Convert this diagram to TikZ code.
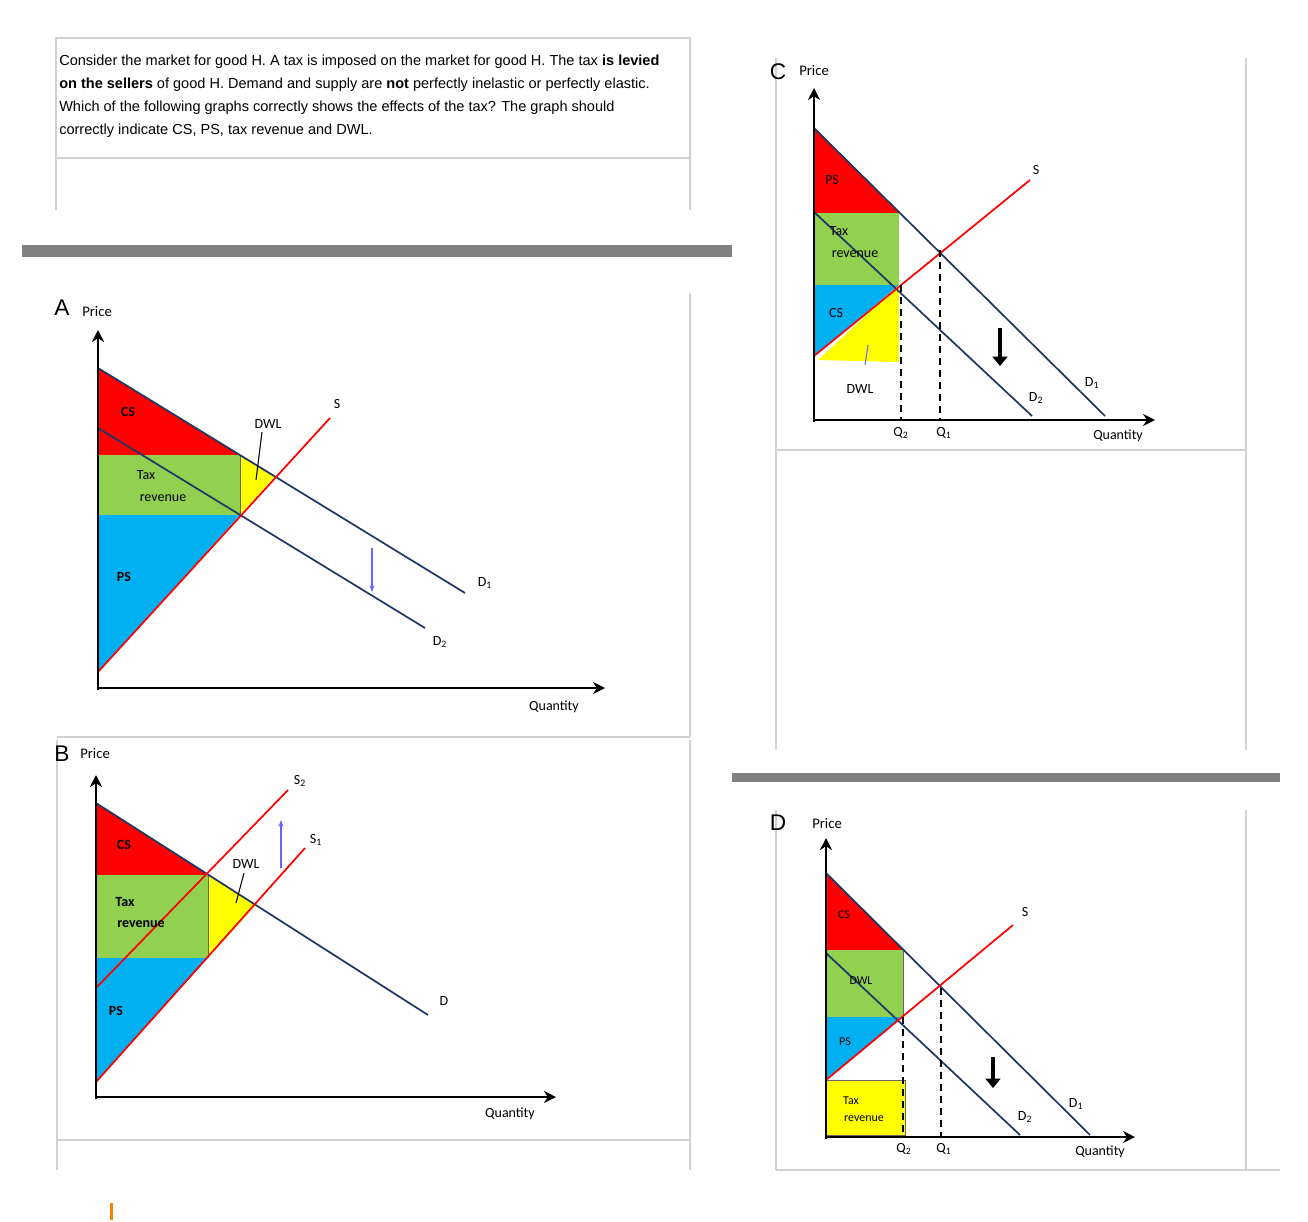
\documentclass[tikz,border=0pt]{standalone}
\usepackage{fontspec}
\usetikzlibrary{arrows.meta}
\setmainfont{Liberation Sans}
\newfontfamily\calfnt{Carlito}
\definecolor{dblue}{RGB}{31,56,100}
\definecolor{gfill}{RGB}{146,208,80}
\definecolor{bfill}{RGB}{0,176,240}
\definecolor{yfill}{RGB}{255,255,0}
\definecolor{frame}{RGB}{210,210,210}
\definecolor{bar}{RGB}{128,128,128}
\begin{document}
\begin{tikzpicture}[x=0.75pt,y=-0.75pt,
 dem/.style={dblue,line width=1.3pt},
 sup/.style={red,line width=1.3pt},
 ax/.style={line width=2.2pt,-{Stealth[length=9pt,width=9pt]}},
 lab/.style={font=\calfnt\fontsize{10.5}{12}\selectfont,inner sep=0pt},
 blab/.style={font=\calfnt\bfseries\fontsize{10.5}{12}\selectfont,inner sep=0pt},
 slab/.style={font=\calfnt\fontsize{9}{10}\selectfont,inner sep=0pt},
 big/.style={font=\fontsize{17}{17}\selectfont,inner sep=0pt},
 plab/.style={font=\calfnt\fontsize{11}{12}\selectfont,inner sep=0pt,anchor=west},
 fr/.style={frame,line width=0.8pt},
 dsh/.style={black,line width=1.3pt,dash pattern=on 5pt off 4pt},
 barr/.style={line width=3pt,-{Triangle[length=7pt,width=11pt]}}]
\useasboundingbox (0,0) rectangle (1308,1221);
% frames
\draw[fr] (56,38) rectangle (690,158);
\draw[fr] (56,158) -- (56,210) (690,158) -- (690,210);
\fill[bar] (22,245) rectangle (732,257);
\fill[bar] (732,773) rectangle (1280,782);
\draw[fr] (690,293) -- (690,737) (57,737) -- (690,737);
\draw[fr] (57,740) -- (57,1170) (690,740) -- (690,1170) (57,1140) -- (690,1140);
\draw[fr] (776,58) -- (776,750) (1246,58) -- (1246,750) (776,450) -- (1246,450);
\draw[fr] (776,810) -- (776,1170) (1246,810) -- (1246,1170) (776,1170) -- (1280,1170);
\fill[orange] (110,1203) rectangle (113,1220);
\node[anchor=north west,align=left,inner sep=0pt,font=\fontsize{10.9}{17.2}\selectfont] (q) at (59,55) {Consider the market for good H. A tax is imposed on the market for good H. The tax \textbf{is levied}\\\textbf{on the sellers} of good H. Demand and supply are \textbf{not} perfectly inelastic or perfectly elastic.\\Which of the following graphs correctly shows the effects of the tax? The graph should\\correctly indicate CS, PS, tax revenue and DWL.};
% ===== A =====
\node[big] (A) at (62,308) {A};
\node[plab] (pa) at (82,311) {Price};
\fill[red] (98,368) -- (98,455) -- (240,455) -- cycle;
\fill[gfill] (98,455) rectangle (240,515);
\fill[bfill] (98,515) -- (240,515) -- (98,672) -- cycle;
\fill[yfill] (240,455) -- (240,515) -- (275,476) -- cycle;
\draw[black!60,line width=0.6pt] (240,455) -- (240,515);
\draw[dem] (98,368) -- (465,593);
\draw[dem] (98,428) -- (425,628);
\draw[sup] (98,672) -- (330,418);
\draw[ax] (98,690) -- (98,330);
\draw[ax] (97,688) -- (605,688);
\draw[blue!60,line width=1pt,-{Stealth[length=5pt]}] (372,548) -- (372,592);
\draw[black,line width=0.8pt] (262,432) -- (256,480);
\node[blab] at (128,412) {CS};
\node[lab] at (146,475) {Tax};
\node[lab] at (163,498) {revenue};
\node[blab] at (124,577) {PS};
\node[lab] at (268,424) {DWL};
\node[lab] at (337,404) {S};
\node[lab] at (485,583) {D\textsubscript{1}};
\node[lab] at (440,642) {D\textsubscript{2}};
\node[lab] at (554,707) {Quantity};
% ===== B =====
\node[big] (B) at (62,754) {B};
\node[plab] at (80,753) {Price};
\fill[red] (96,803) -- (96,875) -- (208,875) -- cycle;
\fill[gfill] (96,875) rectangle (208,958);
\fill[bfill] (96,958) -- (208,958) -- (96,1082) -- cycle;
\fill[yfill] (208,875) -- (208,958) -- (256,905) -- cycle;
\draw[black!60,line width=0.6pt] (208,875) -- (208,958);
\draw[dem] (96,803) -- (428,1015);
\draw[sup] (96,988) -- (288,790);
\draw[sup] (96,1082) -- (305,848);
\draw[ax] (96,1099) -- (96,775);
\draw[ax] (95,1097) -- (556,1097);
\draw[blue!60,line width=1pt,-{Stealth[length=5pt]}] (281,868) -- (281,820);
\draw[black,line width=0.8pt] (244,873) -- (236,903);
\node[blab] at (124,845) {CS};
\node[blab] at (125,902) {Tax};
\node[blab] at (141,924) {revenue};
\node[blab] at (116,1011) {PS};
\node[lab] at (246,864) {DWL};
\node[lab] at (300,781) {S\textsubscript{2}};
\node[lab] at (316,840) {S\textsubscript{1}};
\node[lab] at (444,1001) {D};
\node[lab] at (510,1114) {Quantity};
% ===== C =====
\node[big] (C) at (778,72) {C};
\node[plab] at (799,71) {Price};
\fill[red] (814,128) -- (814,213) -- (899,213) -- cycle;
\fill[gfill] (814,213) rectangle (899,285);
\fill[bfill] (814,285) -- (899,285) -- (814,356) -- cycle;
\fill[yfill] (899,285) -- (818,360) -- (899,362) -- cycle;
\draw[dem] (814,128) -- (1105,416);
\draw[dem] (814,212) -- (1032,416);
\draw[sup] (814,356) -- (1030,180);
\draw[dsh] (901,285) -- (901,420);
\draw[dsh] (940,250) -- (940,420);
\draw[ax] (814,422) -- (814,88);
\draw[ax] (813,420) -- (1155,420);
\draw[barr] (1000,328) -- (1000,366);
\draw[blue!60,line width=0.8pt] (868,345) -- (865,365);
\node[lab] at (832,180) {PS};
\node[lab] at (839,231) {Tax};
\node[lab] at (855,254) {revenue};
\node[lab] at (836,313) {CS};
\node[lab] at (860,389) {DWL};
\node[lab] at (1036,170) {S};
\node[lab] at (1092,383) {D\textsubscript{1}};
\node[lab] at (1036,398) {D\textsubscript{2}};
\node[lab] at (901,433) {Q\textsubscript{2}};
\node[lab] at (944,433) {Q\textsubscript{1}};
\node[lab] at (1118,436) {Quantity};
% ===== D =====
\node[big] (D) at (778,823) {D};
\node[plab] at (812,823) {Price};
\fill[red] (826,873) -- (826,950) -- (903,950) -- cycle;
\fill[gfill] (826,950) rectangle (903,1017);
\fill[bfill] (826,1017) -- (903,1017) -- (826,1080) -- cycle;
\fill[yfill] (826,1080) rectangle (905,1135);
\draw[black!60,line width=0.6pt] (903,950) -- (903,1017) (826,1080) rectangle (905,1135);
\draw[dem] (826,873) -- (1090,1135);
\draw[dem] (826,953) -- (1020,1135);
\draw[sup] (826,1080) -- (1013,925);
\draw[dsh] (903,1017) -- (903,1137);
\draw[dsh] (941,988) -- (941,1137);
\draw[ax] (826,1139) -- (826,838);
\draw[ax] (825,1137) -- (1135,1137);
\draw[barr] (993,1057) -- (993,1088);
\node[slab] at (844,915) {CS};
\node[slab] at (861,981) {DWL};
\node[slab] at (845,1042) {PS};
\node[slab] at (851,1101) {Tax};
\node[slab] at (864,1119) {revenue};
\node[lab] at (1025,912) {S};
\node[lab] at (1076,1104) {D\textsubscript{1}};
\node[lab] at (1025,1117) {D\textsubscript{2}};
\node[lab] at (904,1149) {Q\textsubscript{2}};
\node[lab] at (944,1149) {Q\textsubscript{1}};
\node[lab] at (1100,1152) {Quantity};
\end{tikzpicture}
\end{document}
